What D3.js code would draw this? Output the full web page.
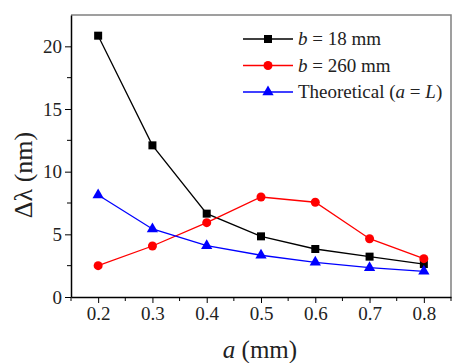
<!DOCTYPE html>
<html>
<head>
<meta charset="utf-8">
<script src="https://cdnjs.cloudflare.com/ajax/libs/d3/7.8.5/d3.min.js"></script>
<style>
body { margin: 0; background: #fff; }
svg text { font-family: "Liberation Serif", "Times New Roman", Times, serif !important; fill: #222; }
</style>
</head>
<body>
<script>
// data
var aValues = [0.2, 0.3, 0.4, 0.5, 0.6, 0.7, 0.8]
var b18 = [20.85, 12.1, 6.65, 4.84, 3.83, 3.22, 2.63]
var b260 = [2.5, 4.07, 5.93, 7.98, 7.56, 4.65, 3.06]
var theory = [8.14, 5.43, 4.09, 3.33, 2.77, 2.34, 2.05]
var xTicks = [0.2, 0.3, 0.4, 0.5, 0.6, 0.7, 0.8]
var yTicks = [0, 5, 10, 15, 20]

var series = [
	{ name: "b18", values: b18, color: "#000000", marker: "square" },
	{ name: "b260", values: b260, color: "#ff0000", marker: "circle" },
	{ name: "theory", values: theory, color: "#0000ff", marker: "triangle" }
]

var W = 474, H = 363
var m = { left: 71, right: 23, top: 15, bottom: 66 }
var serif = "'Liberation Serif', 'Times New Roman', Times, serif"

var svg = d3.select("body").append("svg")
	.attr("width", W)
	.attr("height", H)

var x = d3.scaleLinear().domain([0.15, 0.85]).range([m.left, W - m.right])
var y = d3.scaleLinear().domain([0, 22.5]).range([H - m.bottom, m.top])

// top and right frame (grey)
svg.append("path")
	.attr("d", "M" + m.left + "," + m.top + "H" + (W - m.right) + "V" + (H - m.bottom))
	.attr("fill", "none")
	.attr("stroke", "#808080")
	.attr("stroke-width", 1.5)

// minor ticks
var xMinor = [0.15, 0.25, 0.35, 0.45, 0.55, 0.65, 0.75, 0.85]
var yMinor = [2.5, 7.5, 12.5, 17.5]

var xAxis = svg.append("g")
	.attr("transform", "translate(0," + (H - m.bottom) + ")")
	.call(d3.axisBottom(x).tickValues(xTicks).tickFormat(d3.format(".1f")).tickSize(6).tickPadding(4).tickSizeOuter(0))
xAxis.selectAll("g.minor").data(xMinor).enter().append("line")
	.attr("x1", function(d) { return x(d) }).attr("x2", function(d) { return x(d) })
	.attr("y1", 0).attr("y2", 4)
	.attr("stroke", "#000")

var yAxis = svg.append("g")
	.attr("transform", "translate(" + m.left + ",0)")
	.call(d3.axisLeft(y).tickValues(yTicks).tickSize(6).tickPadding(3).tickSizeOuter(0))
yAxis.selectAll("g.minor").data(yMinor).enter().append("line")
	.attr("y1", function(d) { return y(d) }).attr("y2", function(d) { return y(d) })
	.attr("x1", 0).attr("x2", -4)
	.attr("stroke", "#000")

svg.selectAll("g").attr("font-family", serif)
svg.selectAll(".domain").attr("stroke", "#000").attr("stroke-width", 1.5)
svg.selectAll(".tick line").attr("stroke", "#000")
svg.selectAll(".tick text")
	.attr("font-family", serif)
	.attr("font-size", 19)
	.attr("fill", "#222")

// axis labels
svg.append("text")
	.attr("x", 260).attr("y", 358)
	.attr("text-anchor", "middle")
	.attr("font-family", serif)
	.attr("font-size", 25)
	.html("<tspan font-style='italic'>a</tspan> (mm)")

svg.append("text")
	.attr("transform", "translate(32,175) rotate(-90)")
	.attr("text-anchor", "middle")
	.attr("font-family", serif)
	.attr("font-size", 26)
	.text("Δλ (nm)")

var line = d3.line()
	.x(function(d, i) { return x(aValues[i]) })
	.y(function(d) { return y(d) })

function drawMarker(g, type, color) {
	if (type == "square") {
		g.append("rect").attr("x", -4).attr("y", -4).attr("width", 8).attr("height", 8).attr("fill", color)
	} else if (type == "circle") {
		g.append("circle").attr("r", 4.5).attr("fill", color)
	} else {
		g.append("path").attr("d", d3.symbol().type(d3.symbolTriangle).size(55)()).attr("fill", color)
	}
}

series.forEach(function(s) {
	svg.append("path")
		.datum(s.values)
		.attr("d", line)
		.attr("fill", "none")
		.attr("stroke", s.color)
		.attr("stroke-width", 1.3)
	s.values.forEach(function(v, i) {
		var g = svg.append("g").attr("transform", "translate(" + x(aValues[i]) + "," + y(v) + ")")
		drawMarker(g, s.marker, s.color)
	})
})

// legend
var legendRows = [
	"<tspan font-style='italic'>b</tspan> = 18 mm",
	"<tspan font-style='italic'>b</tspan> = 260 mm",
	"Theoretical (<tspan font-style='italic'>a</tspan> = <tspan font-style='italic'>L</tspan>)"
]
series.forEach(function(s, i) {
	var ly = 39 + i * 26.5
	svg.append("line")
		.attr("x1", 243).attr("x2", 293)
		.attr("y1", ly).attr("y2", ly)
		.attr("stroke", s.color).attr("stroke-width", 1.3)
	var g = svg.append("g").attr("transform", "translate(268," + ly + ")")
	drawMarker(g, s.marker, s.color)
	svg.append("text")
		.attr("x", 298).attr("y", ly + 6)
		.attr("font-family", serif)
		.attr("font-size", 19)
		.html(legendRows[i])
})
</script>
</body>
</html>
